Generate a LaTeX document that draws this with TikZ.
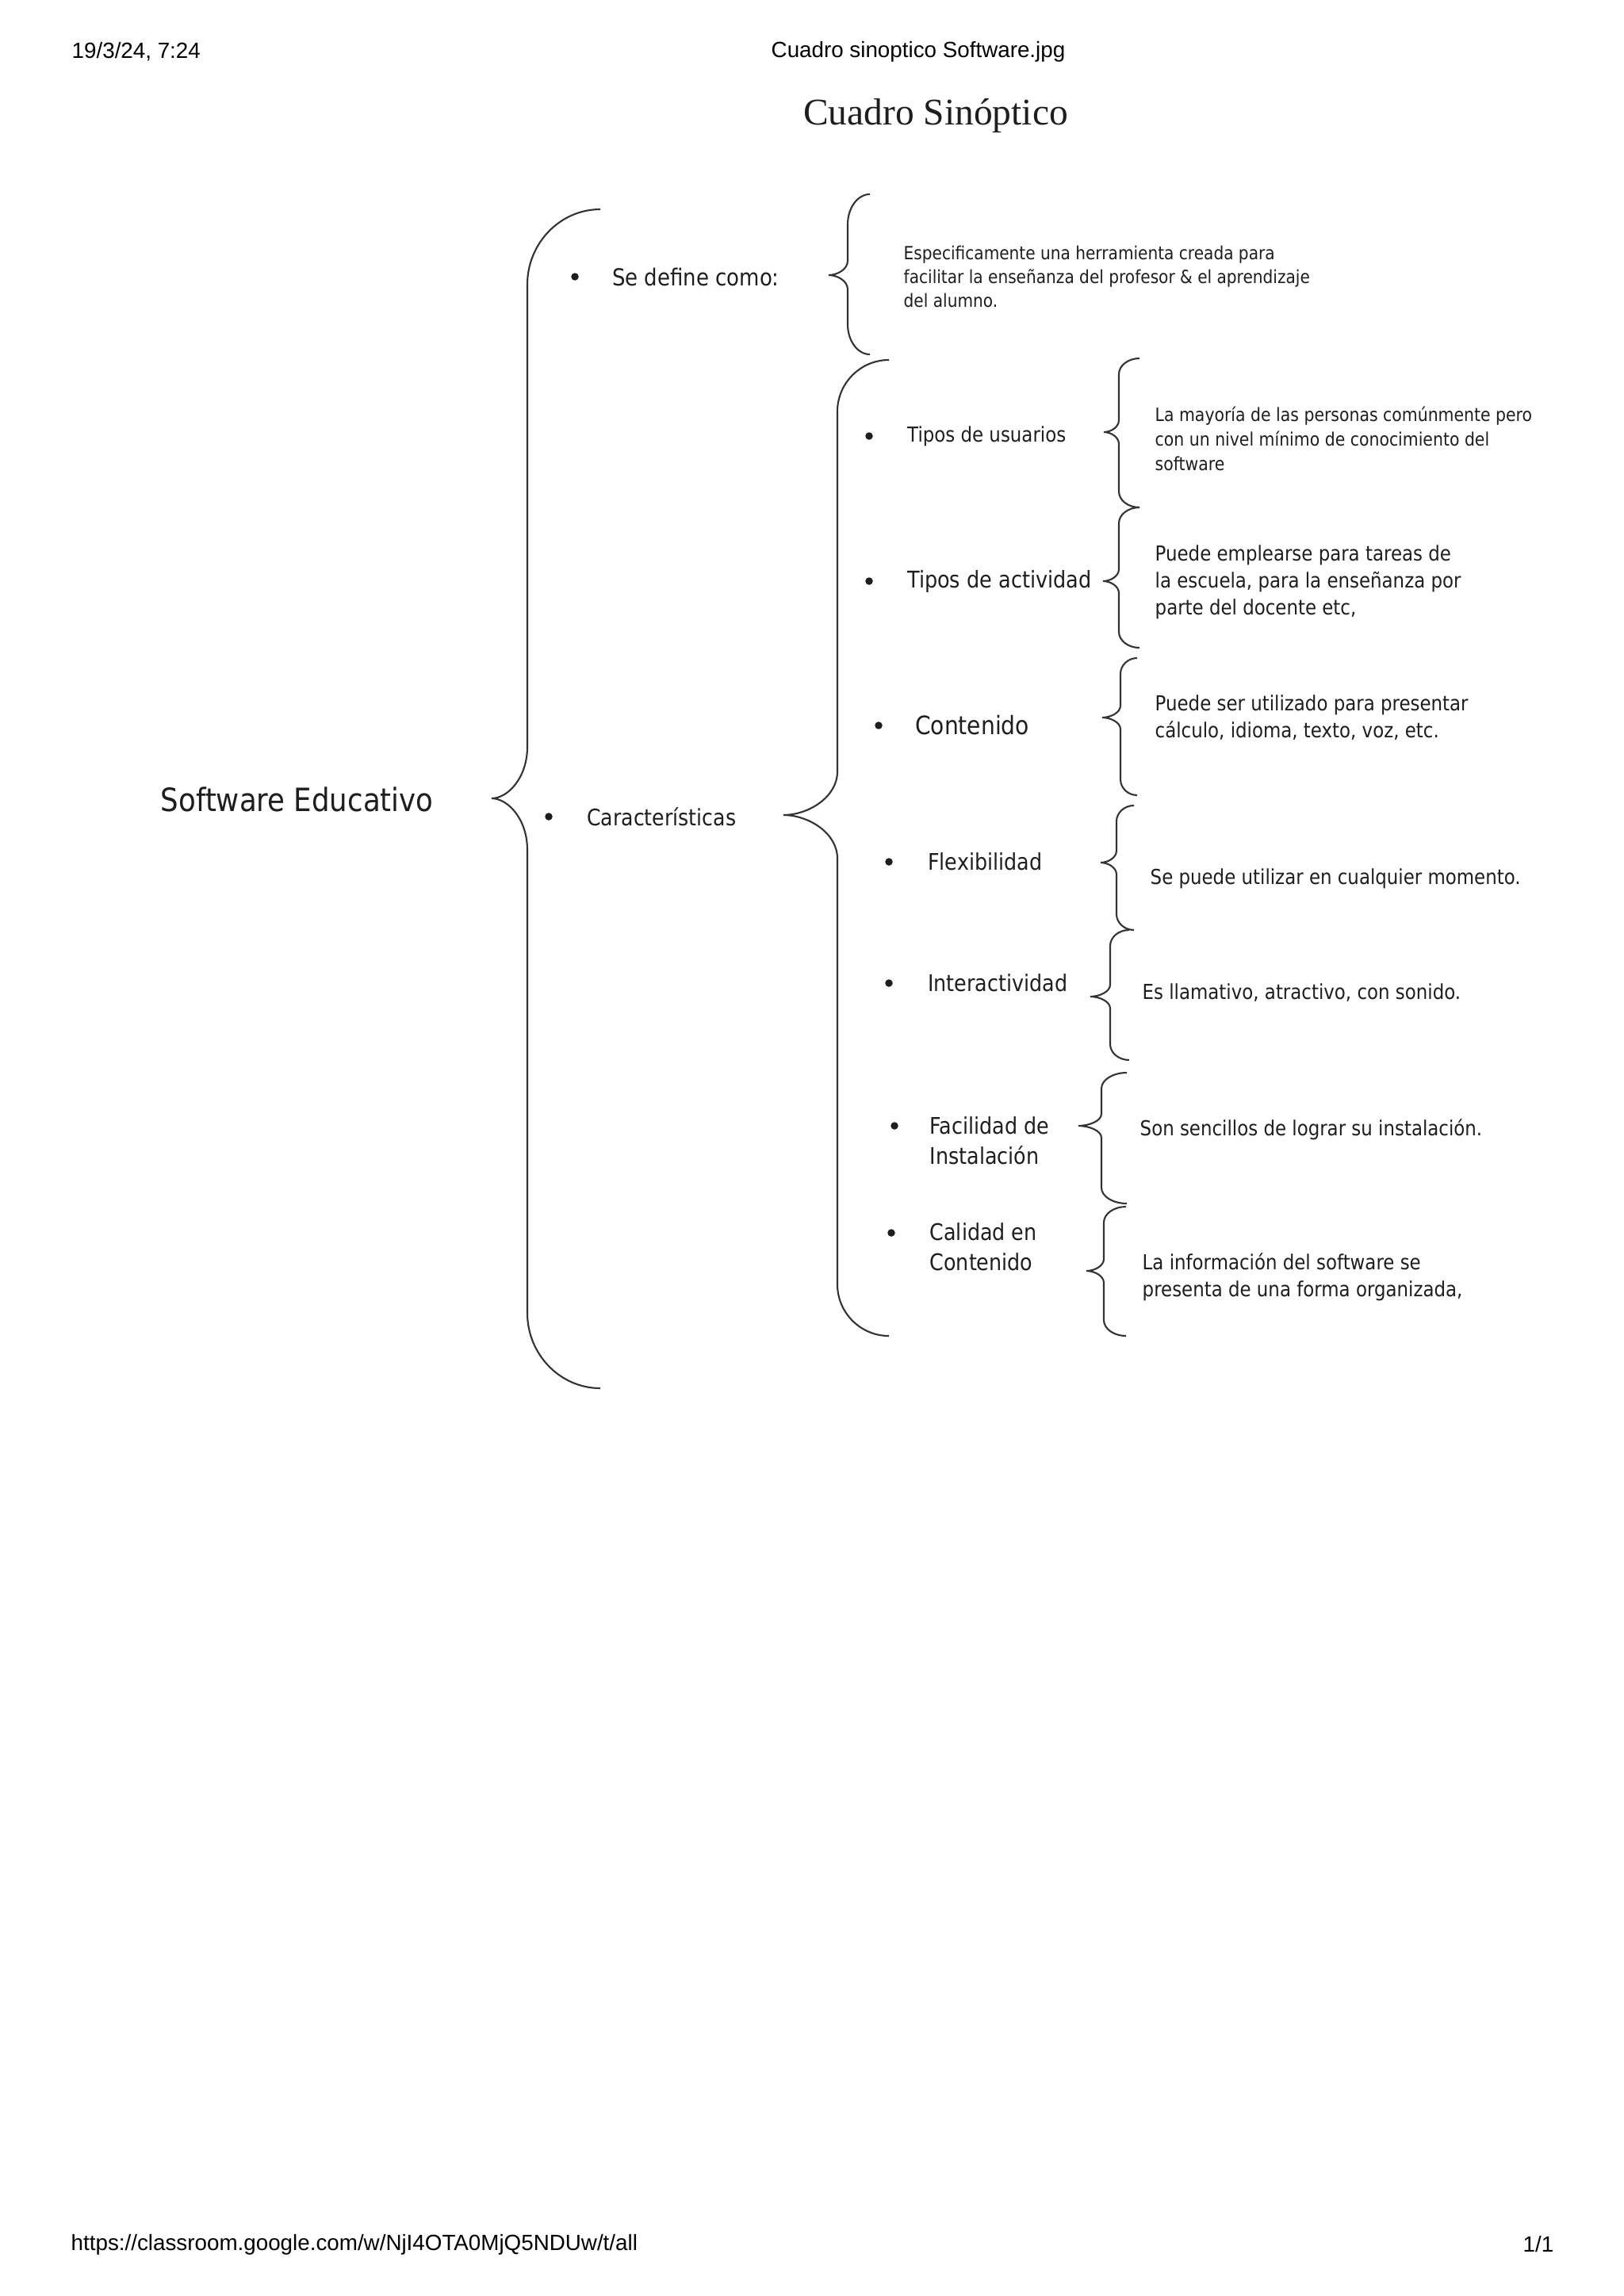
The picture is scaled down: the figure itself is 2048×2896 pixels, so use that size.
\documentclass[tikz,border=0pt]{standalone}
\usepackage{fontspec}
\usepackage{tikz}
\usetikzlibrary{positioning}
\newfontfamily\tahoma[FakeStretch=0.88]{DejaVu Sans}
\newfontfamily\cabecera{Liberation Sans}
\newfontfamily\titulo{Liberation Serif}
\definecolor{cTexto}{HTML}{1E1E1E}
\definecolor{cLinea}{HTML}{333333}

% llave: x extremos, x linea, x punta, y arriba, y punta, y abajo, curva extremos, curva punta
\newcommand{\llave}[8]{%
  \draw[llave linea] (#1,#4)
    .. controls ({#2+0.45*(#1-#2)},#4) and (#2,{#4+0.45*#7}) .. (#2,{#4+#7})
    -- (#2,{#5-#8})
    .. controls (#2,{#5-0.4*#8}) and ({#3+0.45*(#2-#3)},#5) .. (#3,#5)
    .. controls ({#3+0.45*(#2-#3)},#5) and (#2,{#5+0.4*#8}) .. (#2,{#5+#8})
    -- (#2,{#6-#7})
    .. controls (#2,{#6-0.45*#7}) and ({#2+0.45*(#1-#2)},#6) .. (#1,#6);
}

\begin{document}
\begin{tikzpicture}[
  x=0.01cm, y=-0.01cm,
  cab/.style={font=\cabecera\fontsize{7.9}{9.5}\selectfont, text=black, inner sep=0pt},
  item/.style={font=\tahoma\fontsize{8.2}{10.8}\selectfont, text=cTexto, inner sep=0pt, align=left},
  descripcion/.style={font=\tahoma\fontsize{7.4}{9.7}\selectfont, text=cTexto, inner sep=0pt,
                      align=left, anchor=west},
  vineta/.style={circle, fill=cTexto, inner sep=0pt, minimum size=0.095cm},
  llave linea/.style={draw=cLinea, line width=0.6pt},
  node distance=0.42cm,
]
\path[fill=white] (0,0) rectangle (2048,2896);

% cabecera y pie
\node[cab, anchor=west] (fecha) at (90,65) {19/3/24, 7:24};
\node[cab] (archivo) at (1158,65) {Cuadro sinoptico Software.jpg};
\node[cab, anchor=west] (url) at (89,2831) {https://classroom.google.com/w/NjI4OTA0MjQ5NDUw/t/all};
\node[cab, anchor=east] (pagina) at (1960,2831) {1/1};

\node[font=\titulo\fontsize{13.5}{16}\selectfont, text=cTexto] (titulo) at (1180,146) {Cuadro Sinóptico};

% nivel 1
\node[font=\tahoma\fontsize{11.5}{14}\selectfont, text=cTexto, inner sep=0pt, anchor=west] (raiz) at (202,1008) {Software Educativo};
\llave{757}{665}{620}{264}{1007}{1751}{95}{65}

% se define como
\node[vineta] (v1) at (725,349) {};
\node[item, font=\tahoma\fontsize{8.4}{11}\selectfont, right=0.41cm of v1] (define) {Se define como:};
\llave{1097}{1069}{1045}{245}{347}{447}{38}{18}
\node[descripcion, font=\tahoma\fontsize{6.5}{8.5}\selectfont] (d1) at (1139,349)
  {Especificamente una herramienta creada para\\facilitar la enseñanza del profesor \& el aprendizaje\\del alumno.};

% caracteristicas
\node[vineta] (v2) at (692,1030) {};
\node[item, font=\tahoma\fontsize{8.15}{10.8}\selectfont, right=0.42cm of v2] (carac) {Características};
\llave{1121}{1056}{988}{454}{1028}{1685}{65}{55}

\node[vineta] (v3) at (1096,550) {};
\node[item, font=\tahoma\fontsize{7.4}{9.7}\selectfont, right=0.42cm of v3] (usuarios) {Tipos de usuarios};
\llave{1437}{1411}{1392}{452}{545}{640}{20}{15}
\node[descripcion, font=\tahoma\fontsize{6.6}{8.8}\selectfont] (d2) at (1456,553)
  {La mayoría de las personas comúnmente pero\\con un nivel mínimo de conocimiento del\\software};

\node[vineta] (v4) at (1096,733) {};
\node[item, font=\tahoma\fontsize{8.25}{10.8}\selectfont, right=0.42cm of v4] (actividad) {Tipos de actividad};
\llave{1437}{1411}{1391}{640}{733}{817}{20}{15}
\node[descripcion] (d3) at (1456,734)
  {Puede emplearse para tareas de\\la escuela, para la enseñanza por\\parte del docente etc,};

\node[vineta] (v5) at (1108,915) {};
\node[item, font=\tahoma\fontsize{9.1}{11.5}\selectfont, right=0.40cm of v5] (contenido) {Contenido};
\llave{1434}{1413}{1390}{830}{905}{1003}{20}{15}
\node[descripcion] (d4) at (1456,905)
  {Puede ser utilizado para presentar\\cálculo, idioma, texto, voz, etc.};

\node[vineta] (v6) at (1121,1087) {};
\node[item, right=0.43cm of v6] (flexi) {Flexibilidad};
\llave{1430}{1408}{1388}{1016}{1088}{1173}{20}{15}
\node[descripcion] (d5) at (1450,1108) {Se puede utilizar en cualquier momento.};

\node[vineta] (v7) at (1121,1240) {};
\node[item, right=0.43cm of v7] (inter) {Interactividad};
\llave{1424}{1400}{1375}{1173}{1257}{1337}{20}{15}
\node[descripcion] (d6) at (1440,1252) {Es llamativo, atractivo, con sonido.};

\node[vineta] (v8) at (1128,1420) {};
\node[item, anchor=west] (facil) at (1172,1439) {Facilidad de\\Instalación};
\llave{1421}{1389}{1360}{1353}{1420}{1518}{20}{15}
\node[descripcion] (d7) at (1437,1425) {Son sencillos de lograr su instalación.};

\node[vineta] (v9) at (1124,1555) {};
\node[item, anchor=west] (calidad) at (1172,1573) {Calidad en\\Contenido};
\llave{1420}{1392}{1370}{1522}{1603}{1685}{20}{15}
\node[descripcion] (d8) at (1440,1611)
  {La información del software se\\presenta de una forma organizada,};
\end{tikzpicture}
\end{document}
